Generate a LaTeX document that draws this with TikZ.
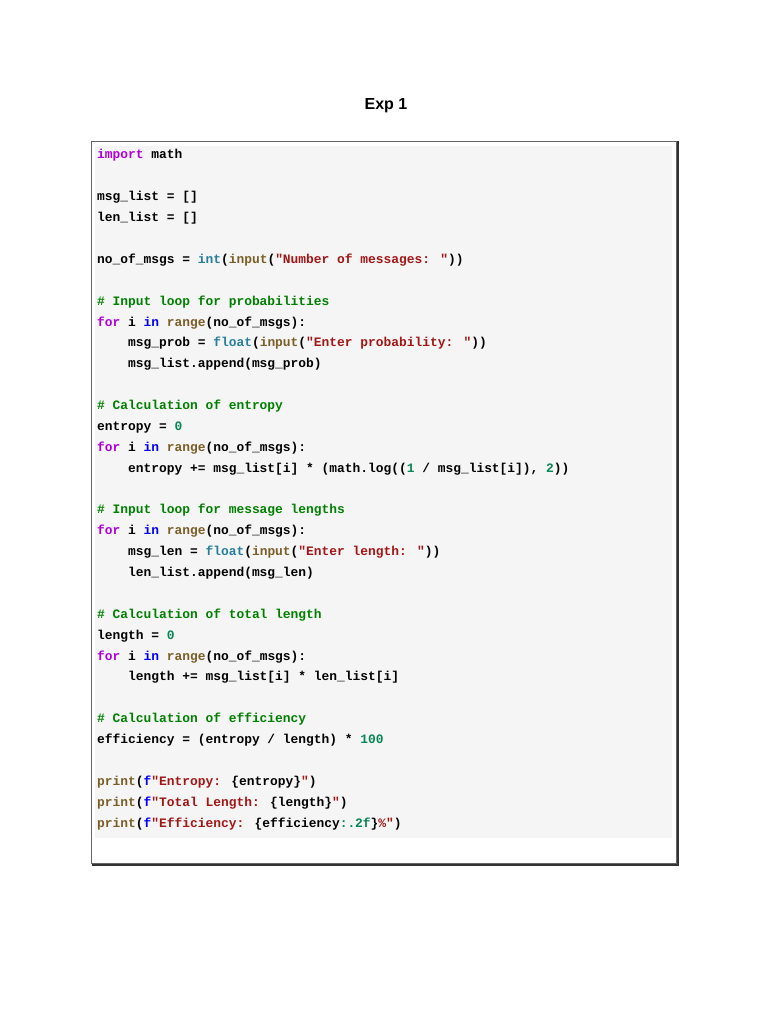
\documentclass[tikz,border=0pt]{standalone}
\usepackage{fontspec}
\setmainfont{Liberation Sans}
\newfontfamily\codefont{Liberation Mono}
\definecolor{kw}{HTML}{AF00DB}
\definecolor{kb}{HTML}{0000FF}
\definecolor{fn}{HTML}{795E26}
\definecolor{ty}{HTML}{267F99}
\definecolor{st}{HTML}{A31515}
\definecolor{nu}{HTML}{098658}
\definecolor{cm}{HTML}{008000}
\definecolor{bgc}{HTML}{F5F5F5}
\newcommand\K[1]{\textcolor{kw}{#1}}
\newcommand\B[1]{\textcolor{kb}{#1}}
\newcommand\F[1]{\textcolor{fn}{#1}}
\newcommand\T[1]{\textcolor{ty}{#1}}
\newcommand\St[1]{\textcolor{st}{#1}}
\newcommand\N[1]{\textcolor{nu}{#1}}
\newcommand\C[1]{\textcolor{cm}{#1}}
\newcommand\ind{\phantom{xxxx}}
\begin{document}
\begin{tikzpicture}[x=1pt,y=-1pt,
  code/.style={anchor=base west,inner sep=0pt,font=\codefont\bfseries\fontsize{12.9}{14}\selectfont}]
\useasboundingbox (0,0) rectangle (768,1024);
\node[font=\bfseries\fontsize{16}{18}\selectfont,anchor=base] (title) at (386,110) {Exp 1};
\draw[black!80,line width=1.6pt] (92.5,142) rectangle (678,865);
\draw[white,fill=white] (91,141) rectangle (676.5,863.5);
\draw[black!60,line width=0.8pt] (91,141) rectangle (676.5,863.5);
\fill[bgc] (95,146) rectangle (672,838);
\def\ls{20.875}
\newcommand\cl[2]{\node[code] (l#1) at (97,{159+#1*\ls}) {#2};}
\cl{0}{\K{import} math}
\cl{2}{msg\_list = []}
\cl{3}{len\_list = []}
\cl{5}{no\_of\_msgs = \T{int}(\F{input}(\St{"Number of messages: "}))}
\cl{7}{\C{\# Input loop for probabilities}}
\cl{8}{\K{for} i \B{in} \F{range}(no\_of\_msgs):}
\cl{9}{\ind msg\_prob = \T{float}(\F{input}(\St{"Enter probability: "}))}
\cl{10}{\ind msg\_list.append(msg\_prob)}
\cl{12}{\C{\# Calculation of entropy}}
\cl{13}{entropy = \N{0}}
\cl{14}{\K{for} i \B{in} \F{range}(no\_of\_msgs):}
\cl{15}{\ind entropy += msg\_list[i] * (math.log((\N{1} / msg\_list[i]), \N{2}))}
\cl{17}{\C{\# Input loop for message lengths}}
\cl{18}{\K{for} i \B{in} \F{range}(no\_of\_msgs):}
\cl{19}{\ind msg\_len = \T{float}(\F{input}(\St{"Enter length: "}))}
\cl{20}{\ind len\_list.append(msg\_len)}
\cl{22}{\C{\# Calculation of total length}}
\cl{23}{length = \N{0}}
\cl{24}{\K{for} i \B{in} \F{range}(no\_of\_msgs):}
\cl{25}{\ind length += msg\_list[i] * len\_list[i]}
\cl{27}{\C{\# Calculation of efficiency}}
\cl{28}{efficiency = (entropy / length) * \N{100}}
\cl{30}{\F{print}(\B{f}\St{"Entropy: }\{entropy\}\St{"})}
\cl{31}{\F{print}(\B{f}\St{"Total Length: }\{length\}\St{"})}
\cl{32}{\F{print}(\B{f}\St{"Efficiency: }\{efficiency\N{:.2f}\}\St{\%"})}
\end{tikzpicture}
\end{document}
